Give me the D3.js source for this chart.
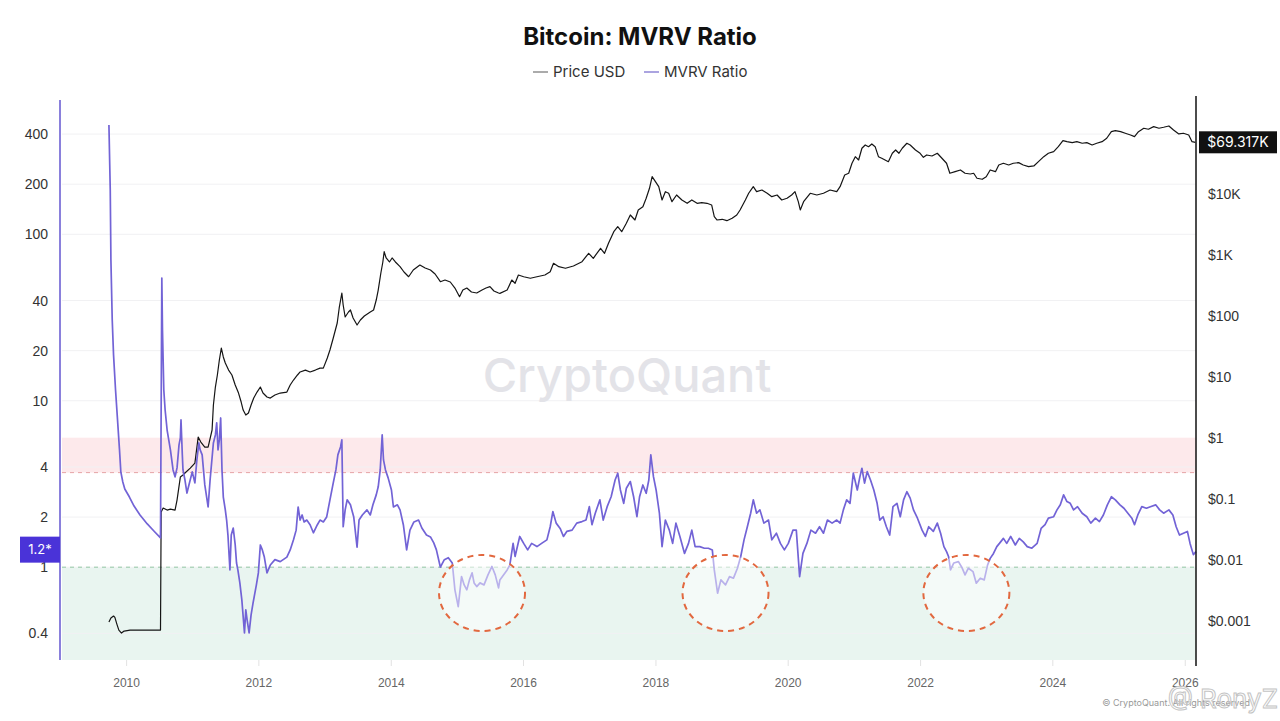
<!DOCTYPE html>
<html>
<head>
<meta charset="utf-8">
<script src="https://d3js.org/d3.v7.min.js"></script>
<style>
  body { margin: 0; background: #fff; }
  svg { display: block; font-family: Inter, "Noto Sans", sans-serif; }
</style>
</head>
<body>
<svg id="chart" width="1280" height="721"></svg>
<script>
// [decimal year, value]
var priceUsd = [
  [2009.74,0.00098],[2009.77,0.00114],[2009.81,0.00123],[2009.83,0.00117],[2009.86,0.000906],[2009.89,0.000723],
  [2009.93,0.000646],[2009.97,0.000697],[2010.06,0.000723],[2010.21,0.000723],[2010.36,0.000723],[2010.52,0.000723],
  [2010.53,0.0617],[2010.56,0.0718],[2010.62,0.0666],[2010.67,0.0691],[2010.74,0.0666],[2010.77,0.097],[2010.82,0.231],
  [2010.86,0.249],[2010.89,0.269],[2010.97,0.324],[2011.04,0.391],[2011.09,1.04],[2011.13,0.864],[2011.19,0.715],
  [2011.24,0.715],[2011.30,1.36],[2011.32,3.48],[2011.35,6.86],[2011.38,10.8],[2011.41,19.0],[2011.44,29.8],
  [2011.47,21.3],[2011.50,17.0],[2011.55,13.0],[2011.60,10.8],[2011.65,7.40],[2011.70,5.47],[2011.74,3.90],
  [2011.77,2.88],[2011.81,2.39],[2011.85,2.58],[2011.89,3.48],[2011.93,4.53],[2011.98,5.68],[2012.03,6.86],
  [2012.07,5.47],[2012.13,4.71],[2012.18,4.53],[2012.25,5.08],[2012.33,5.47],[2012.43,5.68],[2012.48,7.40],
  [2012.53,8.93],[2012.59,10.8],[2012.63,12.1],[2012.71,13.0],[2012.78,12.1],[2012.86,13.0],[2012.93,14.0],
  [2012.98,14.0],[2013.04,20.5],[2013.08,27.7],[2013.13,43.5],[2013.19,76.6],[2013.22,135],[2013.26,237],
  [2013.28,151],[2013.31,96],[2013.36,116],[2013.39,125],[2013.43,92.4],[2013.49,71],[2013.54,85.7],[2013.60,99.7],
  [2013.69,116],[2013.74,125],[2013.78,182],[2013.81,265],[2013.85,504],[2013.88,763],[2013.90,1124],[2013.93,887],
  [2013.98,763],[2014.02,887],[2014.07,763],[2014.14,639],[2014.20,523],[2014.27,438],[2014.34,564],[2014.44,681],
  [2014.52,608],[2014.60,564],[2014.67,485],[2014.75,363],[2014.82,387],[2014.90,359],[2014.97,286],[2015.04,206],
  [2015.09,265],[2015.15,286],[2015.22,246],[2015.30,237],[2015.38,265],[2015.44,286],[2015.50,301],[2015.56,256],
  [2015.63,237],[2015.65,234],[2015.76,265],[2015.83,387],[2015.88,342],[2015.93,467],[2016.01,438],[2016.11,413],
  [2016.21,438],[2016.33,467],[2016.41,529],[2016.46,726],[2016.54,639],[2016.64,602],[2016.76,656],[2016.89,772],
  [2016.99,1059],[2017.06,877],[2017.17,1278],[2017.23,1059],[2017.29,1543],[2017.37,2389],[2017.43,2884],
  [2017.49,2389],[2017.56,3279],[2017.62,4482],[2017.69,3713],[2017.74,5413],[2017.81,6132],[2017.86,8412],
  [2017.91,12260],[2017.95,18980],[2018.00,15720],[2018.05,13020],[2018.10,7889],[2018.15,10790],[2018.20,10160],
  [2018.25,7400],[2018.32,9525],[2018.40,7889],[2018.48,6966],[2018.55,7889],[2018.63,6966],[2018.70,7127],
  [2018.78,6966],[2018.85,6535],[2018.89,4205],[2018.93,3713],[2019.01,3812],[2019.08,3617],[2019.16,3958],
  [2019.23,4482],[2019.28,5413],[2019.36,7889],[2019.41,10160],[2019.48,13020],[2019.53,10790],[2019.61,11500],
  [2019.69,10160],[2019.76,8933],[2019.84,9525],[2019.91,7889],[2019.99,8412],[2020.06,9525],[2020.11,10790],
  [2020.16,7400],[2020.19,5413],[2020.24,7400],[2020.34,10160],[2020.44,9525],[2020.54,10160],[2020.64,11500],
  [2020.74,10790],[2020.79,13020],[2020.86,20240],[2020.92,21580],[2020.97,31460],[2021.02,40340],[2021.07,35630],
  [2021.12,55380],[2021.17,62700],[2021.22,58800],[2021.27,65120],[2021.32,58800],[2021.37,40340],[2021.42,37990],
  [2021.47,35630],[2021.52,33420],[2021.58,45860],[2021.63,51930],[2021.68,45860],[2021.73,55380],[2021.80,66830],
  [2021.85,62700],[2021.93,51930],[2022.00,45860],[2022.05,39440],[2022.10,43010],[2022.18,41420],[2022.26,45860],
  [2022.33,37990],[2022.40,31460],[2022.45,21580],[2022.53,22930],[2022.61,24440],[2022.68,21580],[2022.76,21020],
  [2022.81,21580],[2022.86,17870],[2022.94,17210],[2023.00,18980],[2023.06,24440],[2023.14,22930],[2023.19,29510],
  [2023.26,31460],[2023.34,29510],[2023.41,31460],[2023.49,32190],[2023.56,29510],[2023.64,27680],[2023.72,28420],
  [2023.79,33420],[2023.87,40340],[2023.94,45860],[2024.02,48720],[2024.09,58800],[2024.16,73740],[2024.22,71020],
  [2024.30,68380],[2024.37,71020],[2024.45,66830],[2024.52,68380],[2024.60,62700],[2024.67,66830],[2024.75,71020],
  [2024.82,80700],[2024.89,103500],[2024.95,107500],[2025.03,103500],[2025.10,97450],[2025.18,91400],[2025.24,85760],
  [2025.30,103500],[2025.38,117700],[2025.45,113300],[2025.53,125000],[2025.61,117700],[2025.68,122200],
  [2025.76,128300],[2025.83,110300],[2025.91,94900],[2025.98,97450],[2026.06,91400],[2026.11,71020],[2026.16,69317]
];

var mvrvRatio = [
  [2009.74,453],[2009.76,185],[2009.77,70.1],[2009.79,30.6],[2009.81,18.8],[2009.84,11.6],[2009.87,7.67],[2009.90,5.07],
  [2009.92,3.74],[2009.95,3.25],[2009.98,2.95],[2010.05,2.64],[2010.12,2.33],[2010.21,2.06],[2010.32,1.82],[2010.42,1.65],
  [2010.52,1.50],[2010.54,54.6],[2010.55,26.6],[2010.57,11.6],[2010.59,8.80],[2010.62,6.67],[2010.67,5.07],[2010.71,3.84],
  [2010.74,3.49],[2010.77,3.95],[2010.80,5.43],[2010.82,5.98],[2010.83,7.67],[2010.85,4.73],[2010.86,3.84],[2010.89,3.34],
  [2010.92,2.79],[2010.95,3.12],[2011.00,3.74],[2011.04,3.21],[2011.07,4.41],[2011.10,5.58],[2011.12,5.07],[2011.15,4.73],
  [2011.19,3.12],[2011.24,2.30],[2011.27,3.34],[2011.32,5.58],[2011.35,6.23],[2011.37,7.36],[2011.39,5.07],[2011.41,5.82],
  [2011.43,7.88],[2011.45,3.84],[2011.47,2.64],[2011.50,2.21],[2011.52,1.92],[2011.54,1.56],[2011.57,0.963],[2011.59,1.56],
  [2011.62,1.72],[2011.65,1.36],[2011.67,1.06],[2011.69,0.963],[2011.72,0.805],[2011.75,0.636],[2011.79,0.403],
  [2011.81,0.554],[2011.83,0.483],[2011.86,0.403],[2011.89,0.517],[2011.92,0.610],[2011.97,0.783],[2012.00,0.924],
  [2012.03,1.36],[2012.06,1.27],[2012.09,1.15],[2012.13,0.924],[2012.18,1.03],[2012.25,1.11],[2012.33,1.08],[2012.43,1.15],
  [2012.48,1.27],[2012.53,1.46],[2012.57,1.67],[2012.60,2.30],[2012.63,1.92],[2012.66,2.06],[2012.69,1.87],[2012.73,1.92],
  [2012.78,1.80],[2012.83,1.61],[2012.89,1.80],[2012.93,1.92],[2012.98,1.87],[2013.03,2.00],[2013.08,2.54],[2013.13,3.21],
  [2013.17,3.84],[2013.20,4.73],[2013.24,5.28],[2013.26,5.82],[2013.28,1.75],[2013.31,2.21],[2013.34,2.54],[2013.39,2.37],
  [2013.44,2.00],[2013.49,1.32],[2013.52,1.92],[2013.57,2.06],[2013.64,2.21],[2013.69,2.06],[2013.73,2.37],[2013.78,2.72],
  [2013.81,3.04],[2013.84,3.84],[2013.87,6.23],[2013.89,4.41],[2013.92,3.84],[2013.96,3.44],[2014.01,2.91],[2014.04,2.30],
  [2014.10,2.37],[2014.14,2.21],[2014.19,1.80],[2014.24,1.27],[2014.29,1.67],[2014.35,1.87],[2014.42,1.92],[2014.47,1.72],
  [2014.54,1.56],[2014.60,1.52],[2014.65,1.40],[2014.69,1.27],[2014.75,1.00],[2014.81,1.11],[2014.87,1.14],[2014.93,1.06],
  [2014.97,0.731],[2015.02,0.580],[2015.07,0.878],[2015.11,0.783],[2015.15,0.731],[2015.19,0.839],[2015.23,0.924],
  [2015.26,0.805],[2015.30,0.765],[2015.35,0.805],[2015.41,0.783],[2015.47,0.899],[2015.53,1.01],[2015.58,0.899],
  [2015.63,0.751],[2015.65,0.839],[2015.76,0.963],[2015.80,1.03],[2015.85,1.39],[2015.88,1.16],[2015.95,1.53],
  [2016.01,1.39],[2016.07,1.27],[2016.13,1.39],[2016.21,1.33],[2016.28,1.39],[2016.36,1.46],[2016.41,1.75],[2016.45,2.16],
  [2016.50,1.84],[2016.56,1.71],[2016.61,1.53],[2016.66,1.64],[2016.74,1.67],[2016.81,1.84],[2016.89,1.88],[2016.95,1.92],
  [2017.00,2.31],[2017.04,1.80],[2017.09,2.11],[2017.16,2.54],[2017.21,1.92],[2017.27,2.31],[2017.33,2.65],[2017.39,3.34],
  [2017.43,3.67],[2017.47,2.91],[2017.52,2.42],[2017.56,2.98],[2017.62,3.27],[2017.67,2.65],[2017.72,2.01],[2017.76,2.65],
  [2017.81,3.12],[2017.86,2.78],[2017.90,3.34],[2017.93,4.73],[2017.97,3.50],[2018.01,2.91],[2018.06,2.11],[2018.10,1.33],
  [2018.15,1.92],[2018.21,1.67],[2018.26,1.39],[2018.31,1.84],[2018.37,1.53],[2018.44,1.21],[2018.50,1.39],[2018.55,1.67],
  [2018.60,1.33],[2018.67,1.33],[2018.74,1.30],[2018.80,1.30],[2018.86,1.27],[2018.89,0.963],[2018.94,0.698],
  [2018.99,0.839],[2019.06,0.783],[2019.12,0.878],[2019.18,0.859],[2019.24,0.986],[2019.29,1.16],[2019.34,1.46],
  [2019.39,1.75],[2019.44,2.11],[2019.48,2.54],[2019.53,2.11],[2019.58,2.21],[2019.64,1.84],[2019.71,1.92],[2019.76,1.46],
  [2019.83,1.60],[2019.89,1.39],[2019.95,1.27],[2020.01,1.39],[2020.08,1.67],[2020.13,1.67],[2020.18,0.878],[2020.23,1.21],
  [2020.29,1.39],[2020.35,1.67],[2020.42,1.60],[2020.48,1.75],[2020.54,1.60],[2020.60,1.92],[2020.67,1.84],[2020.74,1.92],
  [2020.79,1.84],[2020.84,2.21],[2020.89,2.54],[2020.94,2.42],[2020.99,3.67],[2021.05,2.91],[2021.09,3.50],[2021.12,3.93],
  [2021.16,3.20],[2021.20,3.75],[2021.25,3.34],[2021.30,2.91],[2021.35,2.42],[2021.39,1.92],[2021.44,2.01],[2021.49,1.75],
  [2021.54,1.56],[2021.59,2.31],[2021.65,2.42],[2021.70,2.01],[2021.75,2.54],[2021.80,2.84],[2021.85,2.60],[2021.90,2.21],
  [2021.96,1.97],[2022.03,1.67],[2022.08,1.53],[2022.13,1.75],[2022.20,1.64],[2022.26,1.84],[2022.31,1.60],[2022.36,1.33],
  [2022.40,1.24],[2022.43,1.16],[2022.46,0.963],[2022.51,1.06],[2022.58,1.08],[2022.63,1.00],[2022.68,0.899],[2022.73,0.986],
  [2022.80,0.941],[2022.85,0.802],[2022.91,0.859],[2022.97,0.839],[2023.02,1.03],[2023.06,1.13],[2023.11,1.21],[2023.16,1.33],
  [2023.20,1.39],[2023.26,1.49],[2023.31,1.39],[2023.37,1.53],[2023.44,1.36],[2023.50,1.49],[2023.56,1.42],[2023.62,1.33],
  [2023.69,1.30],[2023.77,1.39],[2023.83,1.71],[2023.89,1.80],[2023.94,1.97],[2024.02,2.01],[2024.07,2.21],[2024.12,2.37],
  [2024.17,2.72],[2024.22,2.48],[2024.27,2.42],[2024.32,2.21],[2024.38,2.31],[2024.45,2.11],[2024.52,2.01],[2024.58,1.84],
  [2024.65,1.97],[2024.71,1.88],[2024.77,2.06],[2024.83,2.37],[2024.89,2.65],[2024.95,2.54],[2025.02,2.37],[2025.08,2.26],
  [2025.14,2.11],[2025.20,1.97],[2025.24,1.80],[2025.29,2.06],[2025.35,2.31],[2025.42,2.26],[2025.48,2.31],[2025.56,2.37],
  [2025.62,2.21],[2025.68,2.11],[2025.76,2.21],[2025.82,2.06],[2025.87,1.75],[2025.92,1.56],[2025.98,1.60],[2026.04,1.64],
  [2026.08,1.39],[2026.13,1.19],[2026.17,1.24]
];

var yearTicks = d3.range(2010, 2027, 2);
var mvrvTicks = [0.4, 1, 2, 4, 10, 20, 40, 100, 200, 400];
var priceTicks = [0.001, 0.01, 0.1, 1, 10, 100, 1000, 10000];
var heatBand = [3.7, 6];      // pink zone
var valueLine = 1;            // green zone top
var lowZoneYears = [2015.38, 2019.06, 2022.70];
var lowZoneMvrv = 0.70;
var mvrvLabel = "1.2*";

var plotL = 60, plotR = 1196, plotT = 100, plotB = 660;

function toDate( y ) {
    var yr = Math.floor( y ),
        a = new Date( yr, 0, 1 ),
        b = new Date( yr + 1, 0, 1 );
    return new Date( a.getTime() + ( y - yr ) * ( b - a ) );
}

var svg = d3.select( "#chart" );

var x = d3.scaleTime()
    .domain( [ toDate( 2009.0 ), toDate( 2026.17 ) ] )
    .range( [ plotL, plotR ] );

var yL = d3.scaleLog()
    .domain( [ 0.277, 641 ] )
    .range( [ plotB, plotT ] );

var yR = d3.scaleLog()
    .domain( [ Math.pow( 10, -3.63 ), Math.pow( 10, 5.533 ) ] )
    .range( [ plotB, plotT ] );

// zones
svg.append( "rect" )
    .attr( "x", plotL + 2 ).attr( "width", plotR - plotL - 2 )
    .attr( "y", yL( heatBand[ 1 ] ) )
    .attr( "height", yL( heatBand[ 0 ] ) - yL( heatBand[ 1 ] ) )
    .attr( "fill", "#fde9eb" );

svg.append( "rect" )
    .attr( "x", plotL + 2 ).attr( "width", plotR - plotL - 2 )
    .attr( "y", yL( valueLine ) )
    .attr( "height", plotB - yL( valueLine ) )
    .attr( "fill", "#e9f5f0" );

// grid
svg.append( "g" ).selectAll( "line" )
    .data( mvrvTicks )
    .enter().append( "line" )
    .attr( "x1", plotL + 2 ).attr( "x2", plotR )
    .attr( "y1", function( d ) { return yL( d ); } )
    .attr( "y2", function( d ) { return yL( d ); } )
    .attr( "stroke", "#f1f1f3" );

svg.append( "line" )
    .attr( "x1", plotL + 2 ).attr( "x2", plotR )
    .attr( "y1", yL( heatBand[ 0 ] ) ).attr( "y2", yL( heatBand[ 0 ] ) )
    .attr( "stroke", "#e6a3a6" ).attr( "stroke-dasharray", "4,4" );

svg.append( "line" )
    .attr( "x1", plotL + 2 ).attr( "x2", plotR )
    .attr( "y1", yL( valueLine ) ).attr( "y2", yL( valueLine ) )
    .attr( "stroke", "#93c9a6" ).attr( "stroke-dasharray", "4,4" );

// watermark
svg.append( "text" )
    .attr( "x", 627 ).attr( "y", 392 )
    .attr( "text-anchor", "middle" )
    .attr( "font-size", 47 ).attr( "font-weight", 500 )
    .attr( "fill", "#e3e3e8" )
    .text( "CryptoQuant" );

// series
var priceLine = d3.line()
    .x( function( d ) { return x( toDate( d[ 0 ] ) ); } )
    .y( function( d ) { return yR( d[ 1 ] ); } );

var mvrvLine = d3.line()
    .x( function( d ) { return x( toDate( d[ 0 ] ) ); } )
    .y( function( d ) { return yL( d[ 1 ] ); } );

svg.append( "path" )
    .datum( priceUsd )
    .attr( "d", priceLine )
    .attr( "fill", "none" )
    .attr( "stroke", "#151515" )
    .attr( "stroke-width", 1.2 )
    .attr( "stroke-linejoin", "round" );

svg.append( "path" )
    .datum( mvrvRatio )
    .attr( "d", mvrvLine )
    .attr( "fill", "none" )
    .attr( "stroke", "#7263d6" )
    .attr( "stroke-width", 1.7 )
    .attr( "stroke-linejoin", "round" );

// low zone marks
svg.append( "g" ).selectAll( "ellipse" )
    .data( lowZoneYears )
    .enter().append( "ellipse" )
    .attr( "cx", function( d ) { return x( toDate( d ) ); } )
    .attr( "cy", yL( lowZoneMvrv ) )
    .attr( "rx", 43 ).attr( "ry", 38 )
    .attr( "fill", "#fff" ).attr( "fill-opacity", 0.5 )
    .attr( "stroke", "#e2683f" )
    .attr( "stroke-width", 2 )
    .attr( "stroke-dasharray", "6,5" );

// axes
var leftAxis = svg.append( "g" )
    .attr( "transform", "translate(" + plotL + ",0)" )
    .call( d3.axisLeft( yL ).tickValues( mvrvTicks ).tickFormat( function( d ) { return String( d ); } )
        .tickSize( 0 ).tickPadding( 12 ) );
leftAxis.select( ".domain" ).remove();
leftAxis.selectAll( "text" ).attr( "font-size", 14 ).attr( "fill", "#333" ).attr( "font-family", null );

svg.append( "line" )
    .attr( "x1", plotL ).attr( "x2", plotL )
    .attr( "y1", plotT ).attr( "y2", plotB )
    .attr( "stroke", "#8a80dc" ).attr( "stroke-width", 2 );

function priceFormat( d ) {
    return d >= 1000 ? "$" + d / 1000 + "K" : "$" + d;
}

var rightAxis = svg.append( "g" )
    .attr( "transform", "translate(" + plotR + ",0)" )
    .call( d3.axisRight( yR ).tickValues( priceTicks ).tickFormat( priceFormat )
        .tickSize( 0 ).tickPadding( 12 ) );
rightAxis.select( ".domain" ).remove();
rightAxis.selectAll( "text" ).attr( "font-size", 14 ).attr( "fill", "#333" ).attr( "font-family", null );

svg.append( "line" )
    .attr( "x1", plotR ).attr( "x2", plotR )
    .attr( "y1", plotT - 4 ).attr( "y2", plotB + 6 )
    .attr( "stroke", "#111" ).attr( "stroke-width", 1.5 );

var bottomAxis = svg.append( "g" )
    .attr( "transform", "translate(0," + plotB + ")" )
    .call( d3.axisBottom( x ).tickValues( yearTicks.map( function( y ) { return toDate( y ); } ) )
        .tickFormat( d3.timeFormat( "%Y" ) ).tickSize( 6 ).tickPadding( 12 ) );
bottomAxis.select( ".domain" ).remove();
bottomAxis.selectAll( "line" ).attr( "stroke", "#e2e2e2" );
bottomAxis.selectAll( "text" ).attr( "font-size", 12 ).attr( "fill", "#666" ).attr( "font-family", null );

// last value tags
var lastPrice = priceUsd[ priceUsd.length - 1 ][ 1 ],
    lastMvrv = mvrvRatio[ mvrvRatio.length - 1 ][ 1 ];

svg.append( "rect" )
    .attr( "x", plotR + 3 ).attr( "y", yR( lastPrice ) - 11 )
    .attr( "width", 78 ).attr( "height", 22 )
    .attr( "fill", "#111" );
svg.append( "text" )
    .attr( "x", plotR + 42 ).attr( "y", yR( lastPrice ) )
    .attr( "dy", "0.35em" ).attr( "text-anchor", "middle" )
    .attr( "font-size", 14 ).attr( "fill", "#fff" )
    .text( "$" + ( lastPrice / 1000 ).toFixed( 3 ) + "K" );

svg.append( "rect" )
    .attr( "x", 20 ).attr( "y", yL( lastMvrv ) - 15 )
    .attr( "width", plotL - 20 ).attr( "height", 26 )
    .attr( "fill", "#4a33d8" );
svg.append( "text" )
    .attr( "x", 40 ).attr( "y", yL( lastMvrv ) - 2 )
    .attr( "dy", "0.35em" ).attr( "text-anchor", "middle" )
    .attr( "font-size", 13 ).attr( "fill", "#fff" )
    .text( mvrvLabel );

// title + legend
svg.append( "text" )
    .attr( "x", 640 ).attr( "y", 45 )
    .attr( "text-anchor", "middle" )
    .attr( "font-size", 24 ).attr( "font-weight", 700 ).attr( "fill", "#111" )
    .text( "Bitcoin: MVRV Ratio" );

var legend = [
    { name: "Price USD", color: "#8f8f8f", x: 533 },
    { name: "MVRV Ratio", color: "#8f86d6", x: 644 }
];

var lg = svg.append( "g" ).selectAll( "g" )
    .data( legend )
    .enter().append( "g" )
    .attr( "transform", function( d ) { return "translate(" + d.x + ",72)"; } );
lg.append( "line" )
    .attr( "x1", 0 ).attr( "x2", 15 )
    .attr( "stroke", function( d ) { return d.color; } )
    .attr( "stroke-width", 1.5 );
lg.append( "text" )
    .attr( "x", 20 ).attr( "dy", "0.35em" )
    .attr( "font-size", 15 ).attr( "fill", "#333" )
    .text( function( d ) { return d.name; } );

// footer
svg.append( "text" )
    .attr( "x", 1250 ).attr( "y", 706 )
    .attr( "text-anchor", "end" )
    .attr( "font-size", 9 ).attr( "fill", "#999" )
    .text( "© CryptoQuant. All rights reserved" );

svg.append( "text" )
    .attr( "x", 1278 ).attr( "y", 708 )
    .attr( "text-anchor", "end" )
    .attr( "font-size", 26 )
    .attr( "fill", "none" ).attr( "stroke", "#c4c4c4" ).attr( "stroke-width", 1 )
    .text( "@ RonyZ" );
</script>
</body>
</html>
